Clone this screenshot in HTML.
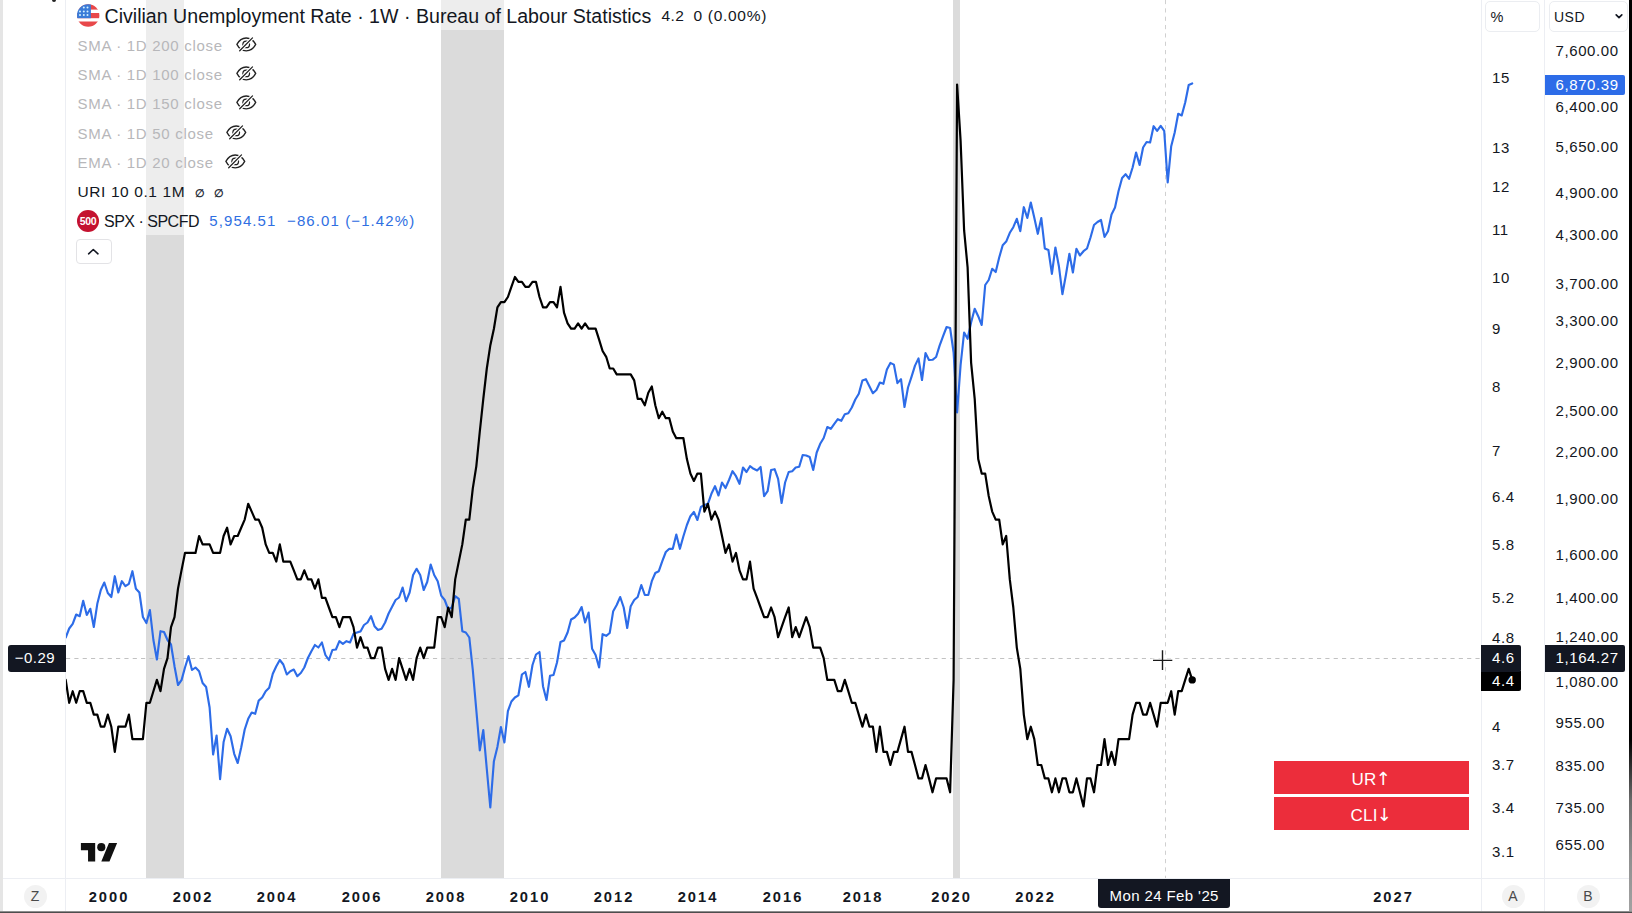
<!DOCTYPE html><html><head><meta charset='utf-8'><title>Civilian Unemployment Rate</title><style>
html,body{margin:0;padding:0}
body{width:1632px;height:913px;overflow:hidden;background:#fff;position:relative;font-family:"Liberation Sans",sans-serif;color:#131722}
.abs{position:absolute}
.t{position:absolute;white-space:pre;line-height:1;transform:translateY(-50%)}
.ax{font-size:15px;letter-spacing:.6px}
.lg{font-size:15px;letter-spacing:.71px;color:#b7b7ba}
.tm{font-size:14.7px;font-weight:700;letter-spacing:2px;transform:translate(-50%,-50%);margin-left:1px}
.band{position:absolute;top:0;height:879px;background:#dbdbdb}
.veil{position:absolute;background:rgba(255,255,255,.5)}
.circ{position:absolute;width:23px;height:23px;border-radius:50%;background:#f2f2f2;color:#4a4a4a;font-size:14px;text-align:center;line-height:23px}
</style></head><body>
<div class='band' style='left:146px;width:37.5px'></div>
<div class='band' style='left:440.5px;width:63px'></div>
<div class='band' style='left:953px;width:7px'></div>
<div class='abs' style='left:52px;top:0;width:4px;height:2px;border-radius:0 0 2px 2px;background:#222'></div>
<div class='abs' style='left:0;top:0;width:3px;height:913px;background:#e5e5e5'></div>
<div class='abs' style='left:65px;top:0;width:1px;height:911px;background:#eceef3'></div>
<div class='abs' style='left:1481px;top:0;width:1px;height:911px;background:#eceef3'></div>
<div class='abs' style='left:1544px;top:0;width:1px;height:911px;background:#eceef3'></div>
<svg class='abs' style='left:66px;top:0' width='1415' height='879' viewBox='66 0 1415 879'>
<line x1='66' x2='1481' y1='658.5' y2='658.5' stroke='#c2c2c2' stroke-width='1' stroke-dasharray='4.17 4.17'/>
<line x1='1165.5' x2='1165.5' y1='0' y2='879' stroke='#d0d0d0' stroke-width='1' stroke-dasharray='4.17 4.17'/>
<path d='M62.2 640.5 L65.7 637.5 L69.2 628.5 L72.7 623.9 L76.2 614.5 L79.7 616.2 L83.2 600.8 L86.8 615.0 L90.3 608.8 L93.8 627.0 L97.3 603.8 L100.8 590.0 L104.3 582.5 L107.8 593.0 L111.3 597.0 L114.8 576.2 L118.3 592.5 L121.8 581.2 L125.4 586.2 L128.9 583.8 L132.4 571.2 L135.9 588.8 L139.4 592.5 L142.9 617.0 L146.4 623.0 L149.9 610.0 L153.4 640.0 L156.9 659.5 L160.5 631.2 L164.0 632.0 L167.5 640.0 L171.0 644.5 L174.5 666.2 L178.0 685.0 L181.5 680.2 L185.0 667.5 L188.5 656.2 L192.0 670.0 L195.5 667.5 L199.1 671.2 L202.6 683.0 L206.1 687.0 L209.6 707.5 L213.1 754.5 L216.6 735.5 L220.1 779.2 L223.6 742.0 L227.1 728.8 L230.6 736.2 L234.2 753.8 L237.7 763.0 L241.2 747.5 L244.7 729.5 L248.2 718.8 L251.7 712.5 L255.2 713.8 L258.7 700.6 L262.2 697.5 L265.7 691.2 L269.2 687.8 L272.8 673.8 L276.3 666.2 L279.8 660.0 L283.3 664.5 L286.8 674.5 L290.3 671.2 L293.8 669.5 L297.3 676.2 L300.8 673.0 L304.3 667.5 L307.9 658.0 L311.4 651.2 L314.9 645.0 L318.4 647.5 L321.9 642.5 L325.4 655.0 L328.9 660.0 L332.4 650.0 L335.9 649.5 L339.4 641.2 L342.9 643.8 L346.5 641.2 L350.0 642.5 L353.5 633.8 L357.0 632.5 L360.5 631.4 L364.0 625.0 L367.5 622.5 L371.0 616.2 L374.5 626.2 L378.0 630.0 L381.6 628.8 L385.1 622.5 L388.6 613.5 L392.1 606.7 L395.6 600.0 L399.1 597.5 L402.6 587.5 L406.1 601.2 L409.6 592.5 L413.1 575.0 L416.6 568.8 L420.2 575.0 L423.7 590.0 L427.2 582.0 L430.7 564.5 L434.2 575.0 L437.7 581.2 L441.2 595.6 L444.7 600.0 L448.2 609.4 L451.7 607.5 L455.2 596.2 L458.8 598.8 L462.3 631.2 L465.8 632.5 L469.3 637.5 L472.8 670.0 L476.3 710.0 L479.8 750.3 L483.3 730.0 L486.8 769.0 L490.3 807.5 L493.9 761.2 L497.4 746.9 L500.9 727.0 L504.4 742.5 L507.9 711.2 L511.4 701.5 L514.9 697.5 L518.4 695.3 L521.9 674.5 L525.4 672.0 L528.9 686.8 L532.5 665.0 L536.0 654.5 L539.5 652.0 L543.0 686.2 L546.5 700.0 L550.0 675.8 L553.5 675.0 L557.0 662.5 L560.5 642.0 L564.0 640.5 L567.6 632.5 L571.1 619.5 L574.6 617.5 L578.1 613.8 L581.6 607.0 L585.1 622.5 L588.6 612.5 L592.1 648.8 L595.6 655.0 L599.1 667.5 L602.6 634.2 L606.2 635.8 L609.7 633.0 L613.2 611.2 L616.7 605.0 L620.2 597.0 L623.7 607.5 L627.2 628.0 L630.7 606.2 L634.2 600.0 L637.7 597.0 L641.3 585.0 L644.8 595.0 L648.3 595.0 L651.8 581.2 L655.3 573.0 L658.8 571.2 L662.3 561.2 L665.8 552.0 L669.3 548.8 L672.8 548.8 L676.3 534.5 L679.9 548.8 L683.4 536.2 L686.9 525.0 L690.4 516.2 L693.9 512.0 L697.4 520.0 L700.9 507.0 L704.4 505.0 L707.9 503.8 L711.4 493.8 L715.0 486.2 L718.5 495.5 L722.0 482.5 L725.5 488.0 L729.0 480.0 L732.5 471.2 L736.0 476.2 L739.5 483.8 L743.0 467.5 L746.5 472.0 L750.0 466.2 L753.6 468.8 L757.1 470.5 L760.6 467.0 L764.1 496.2 L767.6 491.2 L771.1 470.0 L774.6 469.2 L778.1 478.8 L781.6 503.0 L785.1 482.5 L788.7 472.0 L792.2 471.2 L795.7 467.5 L799.2 466.8 L802.7 455.0 L806.2 455.5 L809.7 457.0 L813.2 470.0 L816.7 452.5 L820.2 443.8 L823.7 438.0 L827.3 427.0 L830.8 428.8 L834.3 423.8 L837.8 419.2 L841.3 420.8 L844.8 414.2 L848.3 413.2 L851.8 407.5 L855.3 399.5 L858.8 393.8 L862.4 380.5 L865.9 379.2 L869.4 386.2 L872.9 393.2 L876.4 390.0 L879.9 382.5 L883.4 383.8 L886.9 369.4 L890.4 362.9 L893.9 364.6 L897.4 383.1 L901.0 379.2 L904.5 407.0 L908.0 387.5 L911.5 376.9 L915.0 365.6 L918.5 358.4 L922.0 380.0 L925.5 353.1 L929.0 360.0 L932.5 359.8 L936.1 357.0 L939.6 345.6 L943.1 336.2 L946.6 327.0 L950.1 328.0 L953.6 352.5 L957.1 412.5 L960.6 365.0 L964.1 332.5 L967.6 338.8 L971.1 322.5 L974.7 308.8 L978.2 316.2 L981.7 325.0 L985.2 285.0 L988.7 280.0 L992.2 268.8 L995.7 272.0 L999.2 257.5 L1002.7 245.2 L1006.2 241.6 L1009.8 232.8 L1013.3 227.2 L1016.8 218.8 L1020.3 231.2 L1023.8 207.2 L1027.3 218.0 L1030.8 202.5 L1034.3 217.8 L1037.8 233.8 L1041.3 218.0 L1044.8 248.4 L1048.4 250.0 L1051.9 273.8 L1055.4 247.5 L1058.9 266.2 L1062.4 294.2 L1065.9 275.0 L1069.4 253.8 L1072.9 272.5 L1076.4 248.8 L1079.9 255.5 L1083.5 251.2 L1087.0 248.5 L1090.5 237.5 L1094.0 225.0 L1097.5 222.0 L1101.0 220.0 L1104.5 236.9 L1108.0 231.2 L1111.5 214.5 L1115.0 207.5 L1118.5 191.2 L1122.1 178.0 L1125.6 174.2 L1129.1 178.8 L1132.6 167.5 L1136.1 152.5 L1139.6 165.0 L1143.1 147.5 L1146.6 142.0 L1150.1 142.5 L1153.6 126.2 L1157.1 130.8 L1160.7 125.8 L1164.2 130.8 L1167.7 182.5 L1171.2 146.2 L1174.7 132.5 L1178.2 113.8 L1181.7 115.5 L1185.2 102.5 L1188.7 85.0 L1192.2 83.4' fill='none' stroke='#2d6ce8' stroke-width='2.15' stroke-linejoin='round' stroke-linecap='round'/>
<path d='M62.2 691.2 L65.7 679.9 L69.2 702.8 L72.7 691.2 L76.2 702.8 L79.7 691.2 L83.2 691.2 L86.8 702.8 L90.3 702.8 L93.8 714.6 L97.3 714.6 L100.8 726.7 L104.3 726.7 L107.8 714.6 L111.3 726.7 L114.8 751.9 L118.3 726.7 L121.8 726.7 L125.4 726.7 L128.9 714.6 L132.4 739.1 L135.9 739.1 L139.4 739.1 L142.9 739.1 L146.4 702.8 L149.9 702.8 L153.4 691.2 L156.9 679.9 L160.5 691.2 L164.0 668.9 L167.5 658.1 L171.0 627.1 L174.5 617.2 L178.0 588.6 L181.5 570.4 L185.0 552.9 L188.5 552.9 L192.0 552.9 L195.5 552.9 L199.1 536.0 L202.6 544.4 L206.1 544.4 L209.6 544.4 L213.1 552.9 L216.6 552.9 L220.1 552.9 L223.6 536.0 L227.1 527.7 L230.6 544.4 L234.2 536.0 L237.7 536.0 L241.2 527.7 L244.7 519.6 L248.2 503.8 L251.7 511.6 L255.2 519.6 L258.7 519.6 L262.2 527.7 L265.7 544.4 L269.2 552.9 L272.8 552.9 L276.3 561.6 L279.8 544.4 L283.3 561.6 L286.8 561.6 L290.3 561.6 L293.8 570.4 L297.3 579.4 L300.8 579.4 L304.3 570.4 L307.9 579.4 L311.4 579.4 L314.9 588.6 L318.4 579.4 L321.9 597.9 L325.4 597.9 L328.9 607.5 L332.4 617.2 L335.9 617.2 L339.4 627.1 L342.9 617.2 L346.5 617.2 L350.0 617.2 L353.5 627.1 L357.0 647.6 L360.5 637.2 L364.0 647.6 L367.5 647.6 L371.0 658.1 L374.5 658.1 L378.0 647.6 L381.6 647.6 L385.1 668.9 L388.6 679.9 L392.1 668.9 L395.6 679.9 L399.1 658.1 L402.6 668.9 L406.1 679.9 L409.6 668.9 L413.1 679.9 L416.6 658.1 L420.2 647.6 L423.7 658.1 L427.2 647.6 L430.7 647.6 L434.2 647.6 L437.7 617.2 L441.2 617.2 L444.7 627.1 L448.2 607.5 L451.7 617.2 L455.2 579.4 L458.8 561.6 L462.3 544.4 L465.8 519.6 L469.3 519.6 L472.8 488.4 L476.3 466.3 L479.8 431.5 L483.3 398.9 L486.8 368.5 L490.3 345.4 L493.9 328.7 L497.4 307.4 L500.9 302.2 L504.4 302.2 L507.9 297.0 L511.4 286.9 L514.9 277.0 L518.4 281.9 L521.9 281.9 L525.4 286.9 L528.9 286.9 L532.5 281.9 L536.0 281.9 L539.5 297.0 L543.0 307.4 L546.5 307.4 L550.0 302.2 L553.5 302.2 L557.0 307.4 L560.5 286.9 L564.0 312.6 L567.6 323.3 L571.1 328.7 L574.6 328.7 L578.1 323.3 L581.6 328.7 L585.1 323.3 L588.6 328.7 L592.1 328.7 L595.6 328.7 L599.1 339.7 L602.6 351.0 L606.2 356.8 L609.7 368.5 L613.2 368.5 L616.7 374.4 L620.2 374.4 L623.7 374.4 L627.2 374.4 L630.7 374.4 L634.2 380.4 L637.7 398.9 L641.3 398.9 L644.8 405.3 L648.3 392.7 L651.8 386.5 L655.3 405.3 L658.8 418.2 L662.3 411.7 L665.8 418.2 L669.3 418.2 L672.8 431.5 L676.3 438.2 L679.9 438.2 L683.4 438.2 L686.9 459.1 L690.4 473.6 L693.9 480.9 L697.4 473.6 L700.9 473.6 L704.4 511.6 L707.9 503.8 L711.4 519.6 L715.0 511.6 L718.5 519.6 L722.0 536.0 L725.5 552.9 L729.0 544.4 L732.5 561.6 L736.0 552.9 L739.5 570.4 L743.0 579.4 L746.5 579.4 L750.0 561.6 L753.6 588.6 L757.1 597.9 L760.6 607.5 L764.1 617.2 L767.6 617.2 L771.1 607.5 L774.6 617.2 L778.1 637.2 L781.6 627.1 L785.1 617.2 L788.7 607.5 L792.2 637.2 L795.7 627.1 L799.2 637.2 L802.7 627.1 L806.2 617.2 L809.7 627.1 L813.2 647.6 L816.7 647.6 L820.2 647.6 L823.7 658.1 L827.3 679.9 L830.8 679.9 L834.3 679.9 L837.8 691.2 L841.3 691.2 L844.8 679.9 L848.3 691.2 L851.8 702.8 L855.3 702.8 L858.8 714.6 L862.4 726.7 L865.9 714.6 L869.4 726.7 L872.9 726.7 L876.4 751.9 L879.9 726.7 L883.4 751.9 L886.9 751.9 L890.4 765.0 L893.9 751.9 L897.4 751.9 L901.0 739.1 L904.5 726.7 L908.0 751.9 L911.5 751.9 L915.0 765.0 L918.5 778.4 L922.0 778.4 L925.5 765.0 L929.0 778.4 L932.5 792.3 L936.1 778.4 L939.6 778.4 L943.1 778.4 L946.6 778.4 L950.1 792.3 L953.6 679.9 L957.1 84.6 L960.6 140.7 L964.1 230.2 L967.6 267.3 L971.1 362.6 L974.7 398.9 L978.2 459.1 L981.7 473.6 L985.2 473.6 L988.7 496.0 L992.2 511.6 L995.7 519.6 L999.2 519.6 L1002.7 544.4 L1006.2 536.0 L1009.8 579.4 L1013.3 607.5 L1016.8 647.6 L1020.3 668.9 L1023.8 714.6 L1027.3 739.1 L1030.8 726.7 L1034.3 739.1 L1037.8 765.0 L1041.3 765.0 L1044.8 778.4 L1048.4 778.4 L1051.9 792.3 L1055.4 778.4 L1058.9 792.3 L1062.4 778.4 L1065.9 778.4 L1069.4 792.3 L1072.9 792.3 L1076.4 778.4 L1079.9 792.3 L1083.5 806.5 L1087.0 778.4 L1090.5 778.4 L1094.0 792.3 L1097.5 765.0 L1101.0 765.0 L1104.5 739.1 L1108.0 765.0 L1111.5 751.9 L1115.0 765.0 L1118.5 739.1 L1122.1 739.1 L1125.6 739.1 L1129.1 739.1 L1132.6 714.6 L1136.1 702.8 L1139.6 702.8 L1143.1 714.6 L1146.6 714.6 L1150.1 702.8 L1153.6 714.6 L1157.1 726.7 L1160.7 702.8 L1164.2 702.8 L1167.7 702.8 L1171.2 691.2 L1174.7 714.6 L1178.2 691.2 L1181.7 691.2 L1185.2 679.9 L1188.7 668.9 L1192.2 679.9' fill='none' stroke='#000' stroke-width='2.2' stroke-linejoin='round' stroke-linecap='round'/>
<circle cx='1192.2' cy='679.9' r='3.7' fill='#000'/>
<path d='M1151.500 660.400H1173.500M1162.500 649V671.500' stroke='#fff' stroke-width='4' fill='none'/><path d='M1153 660.400H1172.300M1162.500 650.300V670' stroke='#1a1a1a' stroke-width='1.400' fill='none'/>
<g transform='translate(80.9 839) scale(1.02)' fill='#111'><path d='M14 22H7V11H0V4h14v18zM28 22h-8l7.5-18h8L28 22z'/><circle cx='20' cy='8' r='4'/></g>
</svg>
<div class='veil' style='left:66px;top:0;width:710px;height:30px'></div>
<div class='veil' style='left:66px;top:30px;width:360px;height:205px'></div>
<svg class='abs' style='left:77px;top:4px' width='23' height='23' viewBox='0 0 23 23'><defs><clipPath id='fc'><circle cx='11.2' cy='11.5' r='11.2'/></clipPath></defs><g clip-path='url(#fc)'><rect width='23' height='23' fill='#fff'/><rect y='0' width='23' height='5.6' fill='#e8484a'/><rect y='9' width='23' height='5.2' fill='#e8484a'/><rect y='17.5' width='23' height='6' fill='#e8484a'/><rect width='13.9' height='14.2' fill='#3a7bd8'/><g fill='#d3f0ff'><circle cx='6.8' cy='3.6' r='1'/><circle cx='10.5' cy='3.6' r='1'/><circle cx='3' cy='7.4' r='1'/><circle cx='6.8' cy='7.4' r='1'/><circle cx='10.5' cy='7.4' r='1'/><circle cx='3' cy='11.1' r='1'/><circle cx='6.8' cy='11.1' r='1'/><circle cx='10.5' cy='11.1' r='1'/></g></g></svg>
<div class='t' style='left:104.5px;top:16.7px;font-size:19.6px'>Civilian Unemployment Rate · 1W · Bureau of Labour Statistics</div>
<div class='t' style='left:661.5px;top:15.9px;font-size:15.5px;letter-spacing:.4px'>4.2</div>
<div class='t' style='left:693.5px;top:15.9px;font-size:15.5px;letter-spacing:.7px'>0 (0.00%)</div>
<div class='t lg' style='left:77.5px;top:44.5px'>SMA · 1D 200 close</div>
<svg class='abs' style='left:235px;top:35.4px' width='22' height='18' viewBox='0 0 22 18'><g fill='none' stroke='#222' stroke-width='1.3' stroke-linecap='round'><path d='M1.900 9.400C4.300 4.800 7.600 3 11.200 3S18.300 4.800 20.700 9.400C18.300 14 14.800 15.800 11.200 15.800S4.300 14 1.900 9.400z'/><circle cx='11.2' cy='9.400' r='3.300'/><path d='M17.400 3L4.800 15.700' stroke='#fff' stroke-width='3.600' stroke-linecap='butt'/><path d='M17.500 2.900L4.700 15.800'/></g></svg>
<div class='t lg' style='left:77.5px;top:73.5px'>SMA · 1D 100 close</div>
<svg class='abs' style='left:235px;top:64.4px' width='22' height='18' viewBox='0 0 22 18'><g fill='none' stroke='#222' stroke-width='1.3' stroke-linecap='round'><path d='M1.900 9.400C4.300 4.800 7.600 3 11.200 3S18.300 4.800 20.700 9.400C18.300 14 14.800 15.800 11.200 15.800S4.300 14 1.900 9.400z'/><circle cx='11.2' cy='9.400' r='3.300'/><path d='M17.400 3L4.800 15.700' stroke='#fff' stroke-width='3.600' stroke-linecap='butt'/><path d='M17.500 2.900L4.700 15.800'/></g></svg>
<div class='t lg' style='left:77.5px;top:102.5px'>SMA · 1D 150 close</div>
<svg class='abs' style='left:235px;top:93.4px' width='22' height='18' viewBox='0 0 22 18'><g fill='none' stroke='#222' stroke-width='1.3' stroke-linecap='round'><path d='M1.900 9.400C4.300 4.800 7.600 3 11.200 3S18.300 4.800 20.700 9.400C18.300 14 14.800 15.800 11.200 15.800S4.300 14 1.900 9.400z'/><circle cx='11.2' cy='9.400' r='3.300'/><path d='M17.400 3L4.800 15.700' stroke='#fff' stroke-width='3.600' stroke-linecap='butt'/><path d='M17.500 2.900L4.700 15.800'/></g></svg>
<div class='t lg' style='left:77.5px;top:132.5px'>SMA · 1D 50 close</div>
<svg class='abs' style='left:225px;top:123.4px' width='22' height='18' viewBox='0 0 22 18'><g fill='none' stroke='#222' stroke-width='1.3' stroke-linecap='round'><path d='M1.900 9.400C4.300 4.800 7.600 3 11.200 3S18.300 4.800 20.700 9.400C18.300 14 14.800 15.800 11.200 15.800S4.300 14 1.900 9.400z'/><circle cx='11.2' cy='9.400' r='3.300'/><path d='M17.400 3L4.800 15.700' stroke='#fff' stroke-width='3.600' stroke-linecap='butt'/><path d='M17.500 2.900L4.700 15.800'/></g></svg>
<div class='t lg' style='left:77.5px;top:161.5px'>EMA · 1D 20 close</div>
<svg class='abs' style='left:224px;top:152.4px' width='22' height='18' viewBox='0 0 22 18'><g fill='none' stroke='#222' stroke-width='1.3' stroke-linecap='round'><path d='M1.900 9.400C4.300 4.800 7.600 3 11.200 3S18.300 4.800 20.700 9.400C18.300 14 14.800 15.800 11.200 15.800S4.300 14 1.900 9.400z'/><circle cx='11.2' cy='9.400' r='3.300'/><path d='M17.400 3L4.800 15.700' stroke='#fff' stroke-width='3.600' stroke-linecap='butt'/><path d='M17.500 2.900L4.700 15.800'/></g></svg>
<div class='t' style='left:77.5px;top:192.3px;font-size:15.5px;letter-spacing:.6px'>URI 10 0.1 1M</div>
<div class='t' style='left:195.3px;top:192.8px;font-size:11px;font-weight:700;color:#2a2e39'>∅</div>
<div class='t' style='left:214px;top:192.8px;font-size:11px;font-weight:700;color:#2a2e39'>∅</div>
<div class='abs' style='left:77px;top:209.500px;width:22px;height:22px;border-radius:50%;background:#c4122f;color:#fff;font-size:10.5px;font-weight:700;text-align:center;line-height:22px;letter-spacing:-.4px'>500</div>
<div class='t' style='left:104px;top:222.4px;font-size:16px;letter-spacing:-.5px'>SPX · SPCFD</div>
<div class='t' style='left:209.3px;top:219.6px;font-size:15px;letter-spacing:1.1px;color:#2f6fe2'>5,954.51  −86.01 (−1.42%)</div>
<div class='abs' style='left:76px;top:239px;width:34px;height:22.5px;border:1px solid #e3e3e6;border-radius:4px;background:#fff'></div>
<svg class='abs' style='left:86px;top:245.5px' width='14' height='10' viewBox='0 0 14 10'><path d='M2.600 7.800L7.300 3.500L12 7.800' fill='none' stroke='#131722' stroke-width='1.600' stroke-linecap='round' stroke-linejoin='round'/></svg>
<div class='abs' style='left:1485px;top:1px;width:52.5px;height:28.5px;border:1px solid #ebedf1;border-radius:5px;background:#fff'></div>
<div class='abs' style='left:1549px;top:1px;width:76.5px;height:28.5px;border:1px solid #ebedf1;border-radius:5px;background:#fff'></div>
<div class='t' style='left:1490.500px;top:16.5px;font-size:14.5px'>%</div>
<div class='t' style='left:1554px;top:16.5px;font-size:14px;letter-spacing:.5px'>USD</div>
<svg class='abs' style='left:1614px;top:12.2px' width='10' height='8' viewBox='0 0 10 8'><path d='M2.200 2.900L5 5.600L7.800 2.900' fill='none' stroke='#131722' stroke-width='1.700' stroke-linecap='round' stroke-linejoin='round'/></svg>
<div class='t ax' style='left:1555.5px;top:50.45px'>7,600.00</div>
<div class='t ax' style='left:1555.5px;top:106.45px'>6,400.00</div>
<div class='t ax' style='left:1555.5px;top:146.45px'>5,650.00</div>
<div class='t ax' style='left:1555.5px;top:192.45px'>4,900.00</div>
<div class='t ax' style='left:1555.5px;top:234.45px'>4,300.00</div>
<div class='t ax' style='left:1555.5px;top:283.2px'>3,700.00</div>
<div class='t ax' style='left:1555.5px;top:319.95px'>3,300.00</div>
<div class='t ax' style='left:1555.5px;top:361.95px'>2,900.00</div>
<div class='t ax' style='left:1555.5px;top:409.95px'>2,500.00</div>
<div class='t ax' style='left:1555.5px;top:450.7px'>2,200.00</div>
<div class='t ax' style='left:1555.5px;top:498.45px'>1,900.00</div>
<div class='t ax' style='left:1555.5px;top:554.2px'>1,600.00</div>
<div class='t ax' style='left:1555.5px;top:596.95px'>1,400.00</div>
<div class='t ax' style='left:1555.5px;top:636.2px'>1,240.00</div>
<div class='t ax' style='left:1555.5px;top:680.7px'>1,080.00</div>
<div class='t ax' style='left:1555.5px;top:722.2px'>955.00</div>
<div class='t ax' style='left:1555.5px;top:765.45px'>835.00</div>
<div class='t ax' style='left:1555.5px;top:806.95px'>735.00</div>
<div class='t ax' style='left:1555.5px;top:843.95px'>655.00</div>
<div class='t ax' style='left:1492px;top:77.4px'>15</div>
<div class='t ax' style='left:1492px;top:147.4px'>13</div>
<div class='t ax' style='left:1492px;top:186.4px'>12</div>
<div class='t ax' style='left:1492px;top:229.4px'>11</div>
<div class='t ax' style='left:1492px;top:276.65px'>10</div>
<div class='t ax' style='left:1492px;top:327.9px'>9</div>
<div class='t ax' style='left:1492px;top:385.9px'>8</div>
<div class='t ax' style='left:1492px;top:450.4px'>7</div>
<div class='t ax' style='left:1492px;top:495.9px'>6.4</div>
<div class='t ax' style='left:1492px;top:544.15px'>5.8</div>
<div class='t ax' style='left:1492px;top:597.4px'>5.2</div>
<div class='t ax' style='left:1492px;top:636.65px'>4.8</div>
<div class='t ax' style='left:1492px;top:726.15px'>4</div>
<div class='t ax' style='left:1492px;top:764.4px'>3.7</div>
<div class='t ax' style='left:1492px;top:806.65px'>3.4</div>
<div class='t ax' style='left:1492px;top:851.4px'>3.1</div>
<div class='abs' style='left:1545px;top:75px;width:80px;height:20px;background:#2d6ce8;border-radius:0 2px 2px 0'></div><div class='t ax' style='left:1555.5px;top:84.2px;color:#fff'>6,870.39</div>
<div class='abs' style='left:1545px;top:645px;width:80px;height:26.500px;background:#131722;border-radius:0 2px 2px 0'></div><div class='t ax' style='left:1555.5px;top:656.7px;color:#fff'>1,164.27</div>
<div class='abs' style='left:1481px;top:671px;width:40px;height:19.500px;background:#000;border-radius:0 0 2px 0'></div><div class='t ax' style='left:1492px;top:680.4px;color:#fff'>4.4</div>
<div class='abs' style='left:1481px;top:645px;width:40px;height:26.500px;background:#131722;border-radius:0 2px 2px 0'></div><div class='t ax' style='left:1492px;top:656.7px;color:#fff'>4.6</div>
<div class='abs' style='left:8px;top:645px;width:58px;height:26.500px;background:#131722;border-radius:3px 0 0 3px'></div><div class='t' style='left:14.800px;top:657.3px;color:#fff;font-size:15px;letter-spacing:.45px'>−0.29</div>
<div class='abs' style='left:1274px;top:761px;width:194.500px;height:33px;background:#ec2d3b;color:#fff;font-size:17px;text-align:center;line-height:36px;letter-spacing:.3px'>UR<span style="font-family:'DejaVu Sans',sans-serif;font-size:18px;margin-left:-1px">↑</span></div>
<div class='abs' style='left:1274px;top:797px;width:194.500px;height:33px;background:#ec2d3b;color:#fff;font-size:17px;text-align:center;line-height:36px;letter-spacing:.3px'>CLI<span style="font-family:'DejaVu Sans',sans-serif;font-size:18px;margin-left:-1px">↓</span></div>
<div class='abs' style='left:3px;top:878px;width:1626px;height:1px;background:#eceef3'></div>
<div class='abs' style='left:3px;top:879px;width:1626px;height:32px;background:#fff'></div>
<div class='abs' style='left:65px;top:879px;width:1px;height:32px;background:#eceef3'></div><div class='abs' style='left:1481px;top:879px;width:1px;height:32px;background:#eceef3'></div><div class='abs' style='left:1544px;top:879px;width:1px;height:32px;background:#eceef3'></div>
<div class='t tm' style='left:108px;top:896.9px'>2000</div>
<div class='t tm' style='left:192px;top:896.9px'>2002</div>
<div class='t tm' style='left:276px;top:896.9px'>2004</div>
<div class='t tm' style='left:361px;top:896.9px'>2006</div>
<div class='t tm' style='left:445px;top:896.9px'>2008</div>
<div class='t tm' style='left:529px;top:896.9px'>2010</div>
<div class='t tm' style='left:613px;top:896.9px'>2012</div>
<div class='t tm' style='left:697px;top:896.9px'>2014</div>
<div class='t tm' style='left:782px;top:896.9px'>2016</div>
<div class='t tm' style='left:862px;top:896.9px'>2018</div>
<div class='t tm' style='left:950.5px;top:896.9px'>2020</div>
<div class='t tm' style='left:1034.5px;top:896.9px'>2022</div>
<div class='t tm' style='left:1119px;top:896.9px'>2024</div>
<div class='t tm' style='left:1392.5px;top:896.9px'>2027</div>
<div class='abs' style='left:1098px;top:879px;width:132px;height:29px;background:#131722;border-radius:0 0 3px 3px'></div><div class='t' style='left:1109.500px;top:894.6px;color:#fff;font-size:15px;letter-spacing:.4px'>Mon 24 Feb '25</div>
<div class='circ' style='left:23.500px;top:884.5px'>Z</div>
<div class='circ' style='left:1501.500px;top:884.5px'>A</div>
<div class='circ' style='left:1576.500px;top:884.5px'>B</div>
<div class='abs' style='left:1629px;top:0;width:3px;height:913px;background:linear-gradient(#000 0,#000 740px,#6a6a6a 800px,#909090 860px,#a2a2a2 911px)'></div>
<div class='abs' style='left:0;top:911px;width:1632px;height:1px;background:#8e8e8e'></div><div class='abs' style='left:0;top:912px;width:1632px;height:1px;background:#4d4d4d'></div>
</body></html>
